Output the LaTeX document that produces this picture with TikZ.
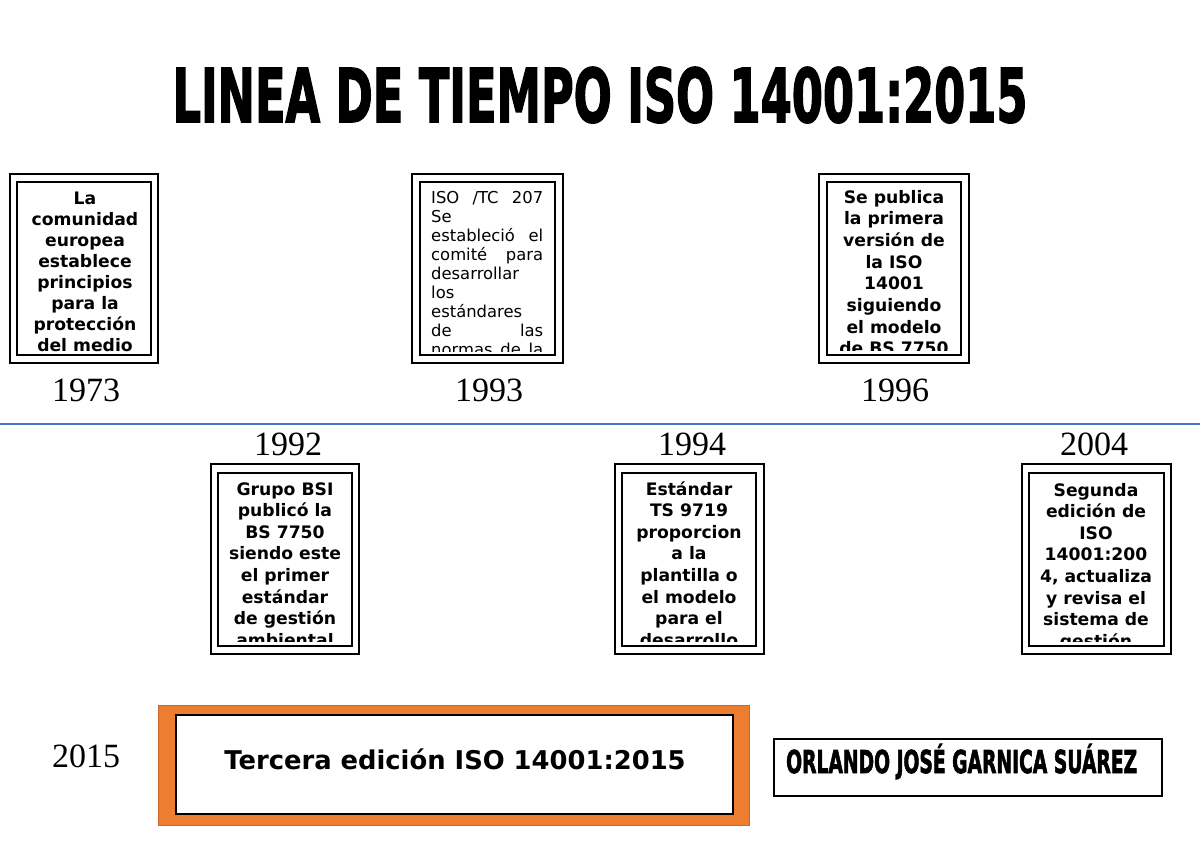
\documentclass[tikz,border=0pt]{standalone}
\usepackage{fontspec}
\usepackage{graphicx}
\setmainfont{DejaVu Sans}
\newfontfamily\yearfont{Liberation Serif}
\newfontfamily\impactfont{DejaVu Sans}[FakeBold=2.5]
\definecolor{tlblue}{RGB}{68,114,196}
\definecolor{tlorange}{RGB}{237,125,49}
\tikzset{
  outerbox/.style={draw=black, line width=1.8pt},
  innerbox/.style={draw=black, line width=1.8pt},
  yearlbl/.style={font=\yearfont\fontsize{34}{34}\selectfont, inner sep=0pt, anchor=base},
  boldline/.style={font=\bfseries\fontsize{17.2}{18}\selectfont, anchor=base, inner sep=0pt},
  plainline/.style={font=\fontsize{16.4}{18}\selectfont, anchor=base west, inner sep=0pt},
}
\begin{document}
\begin{tikzpicture}[x=1pt,y=-1pt]
\useasboundingbox (0,0) rectangle (1200,849);
\fill[white] (0,0) rectangle (1200,849);

% title
\node[anchor=base, inner sep=0pt] (title) at (600,122)
  {\resizebox{855pt}{\height}{\impactfont\bfseries\fontsize{74}{74}\selectfont LINEA DE TIEMPO ISO 14001:2015}};

% time axis
\coordinate (axisL) at (0,424);
\coordinate (axisR) at (1200,424);
\draw[tlblue, line width=1.2pt] (axisL) -- (axisR);

% ---- 1973
\draw[outerbox] (10,174) rectangle (158,363);
\begin{scope}
\clip (19,184) rectangle (149,352);
\foreach \t [count=\i from 0] in {La,comunidad,europea,establece,principios,para la,protección,del medio}
  \node[boldline] (a\i) at (85,204+\i*21) {\t};
\end{scope}
\draw[innerbox] (17,182) rectangle (151,355);
\node[yearlbl] (y1973) at (86,401) {1973};

% ---- 1993
\draw[outerbox] (412,174) rectangle (563,363);
\begin{scope}
\clip (422,184) rectangle (553,351);
\foreach \t [count=\i from 0] in {
  {\makebox[112pt][s]{ISO /TC 207}},
  {\makebox[112pt][l]{Se}},
  {\makebox[112pt][s]{estableció el}},
  {\makebox[112pt][s]{comité para}},
  {\makebox[112pt][l]{desarrollar}},
  {\makebox[112pt][l]{los}},
  {\makebox[112pt][l]{estándares}},
  {\makebox[112pt][s]{de las}},
  {\makebox[112pt][s]{normas de la}}}
  \node[plainline] (b\i) at (431,203+\i*19) {\t};
\end{scope}
\draw[innerbox] (420,182) rectangle (555,355);
\node[yearlbl] (y1993) at (489,401) {1993};

% ---- 1996
\draw[outerbox] (819,174) rectangle (969,363);
\begin{scope}
\clip (829,184) rectangle (959,350);
\foreach \t [count=\i from 0] in {Se publica,la primera,versión de,la ISO,14001,siguiendo,el modelo,de BS 7750}
  \node[boldline] (c\i) at (894,203+\i*21.7) {\t};
\end{scope}
\draw[innerbox] (827,182) rectangle (961,355);
\node[yearlbl] (y1996) at (895,401) {1996};

% ---- 1992
\node[yearlbl] (y1992) at (288,455) {1992};
\draw[outerbox] (211,464) rectangle (359,654);
\begin{scope}
\clip (220,475) rectangle (350,641);
\foreach \t [count=\i from 0] in {Grupo BSI,publicó la,BS 7750,siendo este,el primer,estándar,de gestión,ambiental}
  \node[boldline] (d\i) at (285,495+\i*21.6) {\t};
\end{scope}
\draw[innerbox] (218,473) rectangle (352,646);

% ---- 1994
\node[yearlbl] (y1994) at (692,455) {1994};
\draw[outerbox] (615,464) rectangle (764,654);
\begin{scope}
\clip (624,475) rectangle (754,641);
\foreach \t [count=\i from 0] in {Estándar,TS 9719,proporcion,a la,plantilla o,el modelo,para el,desarrollo}
  \node[boldline] (e\i) at (689,495+\i*21.6) {\t};
\end{scope}
\draw[innerbox] (622,473) rectangle (756,646);

% ---- 2004
\node[yearlbl] (y2004) at (1094,455) {2004};
\draw[outerbox] (1022,464) rectangle (1171,654);
\begin{scope}
\clip (1031,475) rectangle (1162,641);
\foreach \t [count=\i from 0] in {Segunda,edición de,ISO,14001:200,{4, actualiza},y revisa el,sistema de,gestión}
  \node[boldline] (f\i) at (1096,496+\i*21.6) {\t};
\end{scope}
\draw[innerbox] (1029,473) rectangle (1164,646);

% ---- 2015
\node[yearlbl] (y2015) at (86,767) {2015};
\draw[fill=tlorange, draw=tlorange!85!black, line width=0.6pt] (158,705) rectangle (749,825);
\draw[fill=white, draw=black, line width=1.8pt] (176,715) rectangle (733,814);
\node[inner sep=0pt] (t2015) at (455,759) {\bfseries\fontsize{25.8}{28}\selectfont Tercera edición ISO 14001:2015};

% author
\draw[line width=1.8pt] (774,739) rectangle (1162,796);
\node[anchor=base west, inner sep=0pt] (author) at (786,773)
  {\resizebox{351pt}{\height}{\impactfont\bfseries\fontsize{31.5}{32}\selectfont ORLANDO JOSÉ GARNICA SUÁREZ}};
\end{tikzpicture}
\end{document}
